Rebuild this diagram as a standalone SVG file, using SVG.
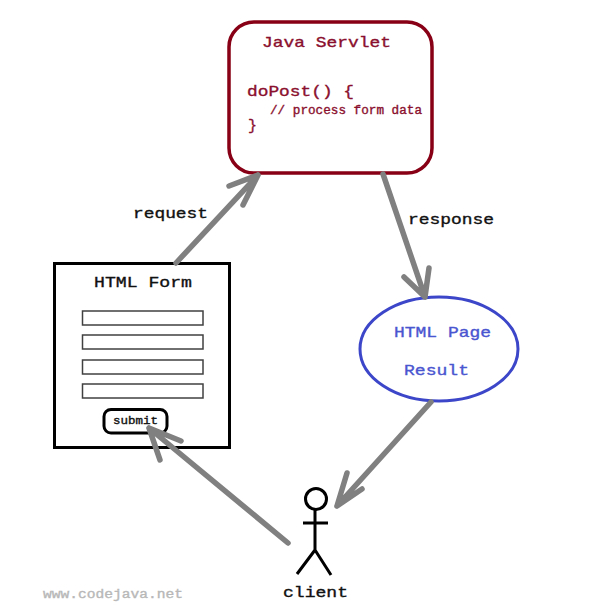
<svg xmlns="http://www.w3.org/2000/svg" width="611" height="608" viewBox="0 0 611 608">
<style>
text{font-family:"Liberation Mono","DejaVu Sans Mono",monospace;font-weight:normal;stroke-width:.35}
.ink{fill:#111;stroke:#111}
.arrow{fill:none;stroke:#808080;stroke-width:5.500;stroke-linecap:round;stroke-linejoin:round}
.input{fill:#fff;stroke:#404040;stroke-width:1.5}
.black{fill:none;stroke:#000;stroke-width:3}
.red{fill:#8a0f2e;stroke:#8a0f2e}
.blue{fill:#4a55d0;stroke:#4a55d0}
</style>
<rect width="611" height="608" fill="#fff"/>
<g id="servlet">
<rect x="229" y="22" width="203" height="151" rx="25" fill="#fff" stroke="#880015" stroke-width="3.500"/>
<text class="red" x="262" y="47" font-size="15" textLength="129" lengthAdjust="spacingAndGlyphs">Java Servlet</text>
<text class="red" x="247" y="96" font-size="15" textLength="107" lengthAdjust="spacingAndGlyphs">doPost() {</text>
<text class="red" x="270" y="114" font-size="12" textLength="152" lengthAdjust="spacingAndGlyphs">// process form data</text>
<text class="red" x="248" y="130" font-size="15">}</text>
</g>
<g id="form">
<rect x="54.500" y="263.500" width="175" height="184" fill="#fff" stroke="#000" stroke-width="3"/>
<text class="ink" x="94" y="287" font-size="15" textLength="98" lengthAdjust="spacingAndGlyphs">HTML Form</text>
<rect class="input" x="82.500" y="311" width="120.500" height="14"/>
<rect class="input" x="82.500" y="335" width="120.500" height="14"/>
<rect class="input" x="82.500" y="360" width="120.500" height="14"/>
<rect class="input" x="82.500" y="384" width="120.500" height="14"/>
<rect x="104" y="409.500" width="63" height="23.500" rx="7" fill="#fff" stroke="#000" stroke-width="3"/>
<text class="ink" x="113" y="424" font-size="11" textLength="45" lengthAdjust="spacingAndGlyphs">submit</text>
</g>
<g id="result">
<ellipse cx="439" cy="349" rx="79" ry="52" fill="#fff" stroke="#3c46c8" stroke-width="3"/>
<text class="blue" x="394" y="337" font-size="15" textLength="97" lengthAdjust="spacingAndGlyphs">HTML Page</text>
<text class="blue" x="404" y="375" font-size="15" textLength="65" lengthAdjust="spacingAndGlyphs">Result</text>
</g>
<g id="client">
<circle cx="316" cy="499" r="10.500" class="black"/>
<path class="black" d="M315 510V550M303 523H328M315 550L297 574M315 550L331 575"/>
<text class="ink" x="283" y="597" font-size="15" textLength="65" lengthAdjust="spacingAndGlyphs">client</text>
</g>
<g id="connectors">
<path class="arrow" d="M176 263L258 175M229 186L258 175L243 205"/>
<path class="arrow" d="M383 174L425 297M404 277L425 297L429 268"/>
<path class="arrow" d="M431 402L337 506M347 473L337 506L362 489"/>
<path class="arrow" d="M288 543L149 428M181 441L149 428L160 460"/>
</g>
<g id="labels">
<text class="ink" x="133" y="218" font-size="15" textLength="75" lengthAdjust="spacingAndGlyphs">request</text>
<text class="ink" x="408" y="224" font-size="15" textLength="86" lengthAdjust="spacingAndGlyphs">response</text>
<text x="43" y="598" font-size="12" fill="#b8b8b8" stroke="#b8b8b8" textLength="140" lengthAdjust="spacingAndGlyphs">www.codejava.net</text>
</g>
</svg>
